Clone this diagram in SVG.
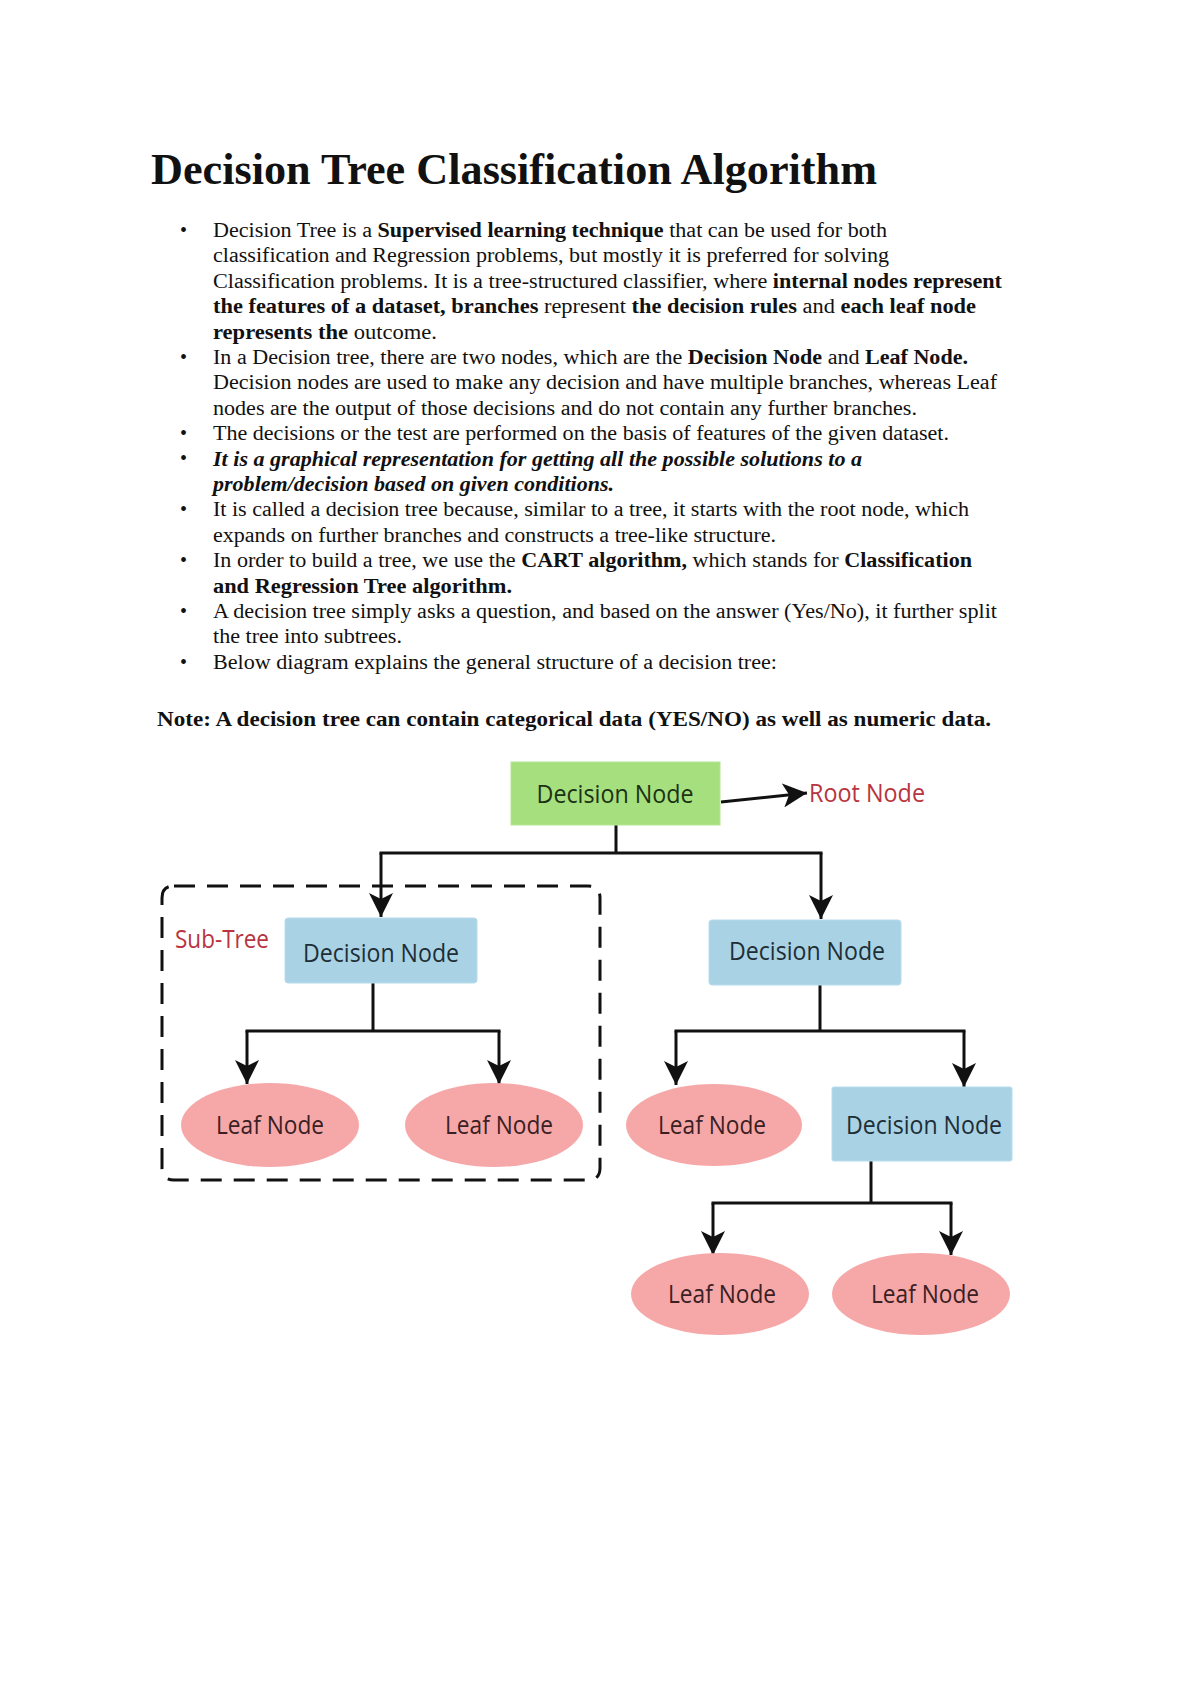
<svg xmlns="http://www.w3.org/2000/svg" width="1200" height="1696" viewBox="0 0 1200 1696">
<defs>
<style>
.body{font-family:"Liberation Serif","Times New Roman",serif;font-size:20px;fill:#111}
.b{font-weight:bold}
.bi{font-weight:bold;font-style:italic}
.bul{font-family:"Liberation Serif",serif;font-size:20px;fill:#111}
.lbl{font-family:"Open Sans","Liberation Sans",sans-serif;font-size:25px;text-anchor:middle}
.dn{fill:#1e2e36}
.ln{fill:#3a2024}
.red{font-family:"Open Sans","Liberation Sans",sans-serif;font-size:25px;fill:#b8343f}
.conn{stroke:#111;stroke-width:3;fill:none}
.arr{marker-end:url(#ah)}
.blue{fill:#a9d3e5;stroke:#b8dbea;stroke-width:1}
.leaf{fill:#f6a8a8}
</style>
<marker id="ah" markerWidth="24" markerHeight="24" viewBox="0 0 24 24" refX="24" refY="12" orient="auto" markerUnits="userSpaceOnUse">
<path d="M0,0 L24,12 L0,24 L6,12 Z" fill="#111"/>
</marker>
</defs>
<rect width="1200" height="1696" fill="#fff"/>

<g id="title">
<text x="151" y="184" font-family="Liberation Serif,Times New Roman,serif" font-size="44" font-weight="bold" fill="#111" textLength="726" lengthAdjust="spacingAndGlyphs">Decision Tree Classification Algorithm</text>
</g>

<g id="bullets" class="bul">
<text x="180" y="237">•</text>
<text x="180" y="364">•</text>
<text x="180" y="440">•</text>
<text x="180" y="465">•</text>
<text x="180" y="516">•</text>
<text x="180" y="567">•</text>
<text x="180" y="618">•</text>
<text x="180" y="669">•</text>
</g>

<g id="body" class="body">
<text x="213" y="237" textLength="674" lengthAdjust="spacingAndGlyphs">Decision Tree is a <tspan class="b">Supervised learning technique</tspan> that can be used for both</text>
<text x="213" y="262.4" textLength="676" lengthAdjust="spacingAndGlyphs">classification and Regression problems, but mostly it is preferred for solving</text>
<text x="213" y="287.8" textLength="789" lengthAdjust="spacingAndGlyphs">Classification problems. It is a tree-structured classifier, where <tspan class="b">internal nodes represent</tspan></text>
<text x="213" y="313.2" textLength="763" lengthAdjust="spacingAndGlyphs"><tspan class="b">the features of a dataset, branches</tspan> represent <tspan class="b">the decision rules</tspan> and <tspan class="b">each leaf node</tspan></text>
<text x="213" y="338.6" textLength="224" lengthAdjust="spacingAndGlyphs"><tspan class="b">represents the</tspan> outcome.</text>
<text x="213" y="364" textLength="755" lengthAdjust="spacingAndGlyphs">In a Decision tree, there are two nodes, which are the <tspan class="b">Decision Node</tspan> and <tspan class="b">Leaf Node.</tspan></text>
<text x="213" y="389.4" textLength="784" lengthAdjust="spacingAndGlyphs">Decision nodes are used to make any decision and have multiple branches, whereas Leaf</text>
<text x="213" y="414.8" textLength="704" lengthAdjust="spacingAndGlyphs">nodes are the output of those decisions and do not contain any further branches.</text>
<text x="213" y="440.2" textLength="736" lengthAdjust="spacingAndGlyphs">The decisions or the test are performed on the basis of features of the given dataset.</text>
<text x="213" y="465.6" class="bi" textLength="649" lengthAdjust="spacingAndGlyphs">It is a graphical representation for getting all the possible solutions to a</text>
<text x="213" y="491" class="bi" textLength="401" lengthAdjust="spacingAndGlyphs">problem/decision based on given conditions.</text>
<text x="213" y="516.4" textLength="756" lengthAdjust="spacingAndGlyphs">It is called a decision tree because, similar to a tree, it starts with the root node, which</text>
<text x="213" y="541.8" textLength="563" lengthAdjust="spacingAndGlyphs">expands on further branches and constructs a tree-like structure.</text>
<text x="213" y="567.2" textLength="759" lengthAdjust="spacingAndGlyphs">In order to build a tree, we use the <tspan class="b">CART algorithm,</tspan> which stands for <tspan class="b">Classification</tspan></text>
<text x="213" y="592.6" class="b" textLength="299" lengthAdjust="spacingAndGlyphs">and Regression Tree algorithm.</text>
<text x="213" y="618" textLength="784" lengthAdjust="spacingAndGlyphs">A decision tree simply asks a question, and based on the answer (Yes/No), it further split</text>
<text x="213" y="643.4" textLength="189" lengthAdjust="spacingAndGlyphs">the tree into subtrees.</text>
<text x="213" y="668.8" textLength="564" lengthAdjust="spacingAndGlyphs">Below diagram explains the general structure of a decision tree:</text>
<text x="157" y="726" class="b" textLength="834" lengthAdjust="spacingAndGlyphs">Note: A decision tree can contain categorical data (YES/NO) as well as numeric data.</text>
</g>

<g id="subtree">
<path d="M174,886 H588 Q600,886 600,898 V1168 Q600,1180 588,1180 H174 Q162,1180 162,1168 V898 Q162,886 174,886 Z" fill="none" stroke="#111" stroke-width="3" stroke-dasharray="21 12"/>
<text x="175" y="948" class="red" textLength="94" lengthAdjust="spacingAndGlyphs">Sub-Tree</text>
</g>

<g id="connectors">
<line class="conn" x1="616" y1="825" x2="616" y2="853"/>
<line class="conn" x1="379.5" y1="853" x2="822.5" y2="853"/>
<line class="conn arr" x1="381" y1="853" x2="381" y2="917"/>
<line class="conn arr" x1="821" y1="853" x2="821" y2="919"/>
<line class="conn arr" x1="721" y1="802" x2="807" y2="793"/>

<line class="conn" x1="373" y1="983" x2="373" y2="1031"/>
<line class="conn" x1="245.5" y1="1031" x2="500.5" y2="1031"/>
<line class="conn arr" x1="247" y1="1031" x2="247" y2="1084"/>
<line class="conn arr" x1="499" y1="1031" x2="499" y2="1084"/>

<line class="conn" x1="820" y1="985" x2="820" y2="1031"/>
<line class="conn" x1="674.5" y1="1031" x2="965.5" y2="1031"/>
<line class="conn arr" x1="676" y1="1031" x2="676" y2="1085"/>
<line class="conn arr" x1="964" y1="1031" x2="964" y2="1087"/>

<line class="conn" x1="871" y1="1161" x2="871" y2="1203"/>
<line class="conn" x1="711.5" y1="1203" x2="952.5" y2="1203"/>
<line class="conn arr" x1="713" y1="1203" x2="713" y2="1255"/>
<line class="conn arr" x1="951" y1="1203" x2="951" y2="1255"/>
</g>

<g id="root-node">
<rect x="511" y="762" width="209" height="63" fill="#a6df7e" stroke="#b6e592" stroke-width="1"/>
<text x="615" y="803" class="lbl" fill="#1b3214" textLength="157" lengthAdjust="spacingAndGlyphs">Decision Node</text>
</g>
<g id="root-label">
<text x="809" y="802" class="red" textLength="116" lengthAdjust="spacingAndGlyphs">Root Node</text>
</g>

<g id="decision-left">
<rect x="285" y="918" width="192" height="65" rx="3" class="blue"/>
<text x="381" y="962" class="lbl dn" textLength="156" lengthAdjust="spacingAndGlyphs">Decision Node</text>
</g>
<g id="decision-right">
<rect x="709" y="920" width="192" height="65" rx="3" class="blue"/>
<text x="807" y="960" class="lbl dn" textLength="156" lengthAdjust="spacingAndGlyphs">Decision Node</text>
</g>
<g id="decision-3">
<rect x="832" y="1087" width="180" height="74" rx="2" class="blue"/>
<text x="924" y="1134" class="lbl dn" textLength="156" lengthAdjust="spacingAndGlyphs">Decision Node</text>
</g>

<g id="leaf-1">
<ellipse cx="270" cy="1125" rx="89" ry="42" class="leaf"/>
<text x="270" y="1134" class="lbl ln" textLength="108" lengthAdjust="spacingAndGlyphs">Leaf Node</text>
</g>
<g id="leaf-2">
<ellipse cx="494" cy="1125" rx="89" ry="42" class="leaf"/>
<text x="499" y="1134" class="lbl ln" textLength="108" lengthAdjust="spacingAndGlyphs">Leaf Node</text>
</g>
<g id="leaf-3">
<ellipse cx="714" cy="1125" rx="88" ry="41" class="leaf"/>
<text x="712" y="1134" class="lbl ln" textLength="108" lengthAdjust="spacingAndGlyphs">Leaf Node</text>
</g>
<g id="leaf-4">
<ellipse cx="720" cy="1294" rx="89" ry="41" class="leaf"/>
<text x="722" y="1303" class="lbl ln" textLength="108" lengthAdjust="spacingAndGlyphs">Leaf Node</text>
</g>
<g id="leaf-5">
<ellipse cx="921" cy="1294" rx="89" ry="41" class="leaf"/>
<text x="925" y="1303" class="lbl ln" textLength="108" lengthAdjust="spacingAndGlyphs">Leaf Node</text>
</g>
</svg>
